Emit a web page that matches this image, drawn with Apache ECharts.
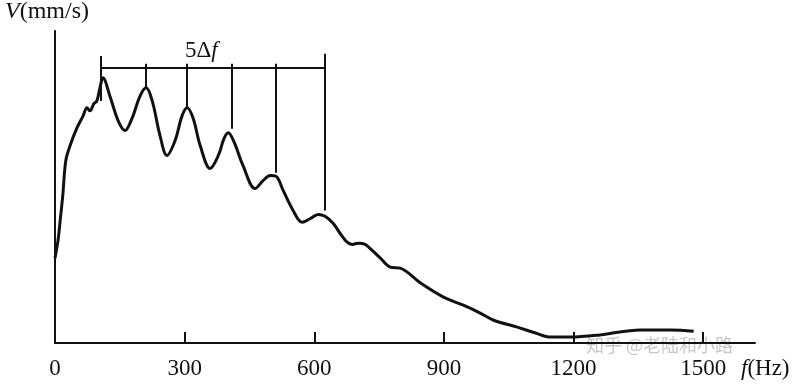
<!DOCTYPE html>
<html><head><meta charset="utf-8">
<script src="https://cdn.jsdelivr.net/npm/echarts@6/dist/echarts.min.js"></script>
<style>html,body{margin:0;padding:0;background:#fff}#c{width:800px;height:385px}</style>
</head><body><div id="c"></div>
<script>
// Spectrum curve (frequency Hz, velocity in arbitrary units)
const freq = [0,7,12,18,25,35,51,65,74,81,90,97,104,111,127,146,162,178,197,211,225,243,259,278,294,306,320,336,359,378,391,401,415,435,463,482,498,512,528,551,572,591,609,625,644,660,676,688,702,718,734,753,776,799,846,899,945,984,1015,1070,1112,1147,1193,1262,1355,1425,1478];
const velocity = [27.2,32.9,39.3,47.3,58.5,63.3,69.0,72.8,75.4,74.4,76.7,77.6,81.8,85.0,79.2,71.3,68.1,71.9,79.2,81.8,77.6,66.5,60.1,64.9,72.8,75.4,71.9,63.3,55.9,60.1,65.5,67.4,64.2,56.9,49.5,52.1,53.7,53.4,48.9,42.5,38.7,39.9,41.2,40.6,38.3,35.1,32.3,31.6,32.0,31.6,29.7,27.2,24.3,24.0,19.2,14.7,12.1,9.6,7.3,5.1,3.2,1.9,1.9,2.6,4.2,4.2,3.8];
// Peak marker lines
const markerFreq = [106,211,306,410,512,625];
const markerBottom = [77.6,81.8,75.4,68.7,54.6,42.5];
const markerTop = [92,89.5,89.5,89.5,89.5,92.7];
const barLevel = 88.2;
const xTicks = [300,600,900,1200,1500];
const xLabels = [0,300,600,900,1200,1500];

const serif = '"Liberation Serif","DejaVu Serif",serif';
const curve = freq.map((f,i)=>[f,velocity[i]]);
const markLines = markerFreq.map((f,i)=>[{coord:[f,markerBottom[i]]},{coord:[f,markerTop[i]]}]);
markLines.push([{coord:[markerFreq[0],barLevel]},{coord:[markerFreq[markerFreq.length-1],barLevel]}]);

const chart = echarts.init(document.getElementById('c'), null, {renderer:'canvas'});
chart.setOption({
  animation:false,
  backgroundColor:'#fff',
  grid:{left:55,right:45,top:30,bottom:42,containLabel:false},
  xAxis:{
    type:'value',min:0,max:1620,interval:300,
    name:'{i|f}(Hz)',nameLocation:'end',nameGap:-14,
    nameTextStyle:{fontFamily:serif,fontSize:23,color:'#111',verticalAlign:'top',padding:[14,0,0,0],
      rich:{i:{fontFamily:serif,fontStyle:'italic',fontSize:23,color:'#111'}}},
    axisLine:{show:true,lineStyle:{color:'#111',width:2}},
    axisTick:{show:true,inside:true,length:11,lineStyle:{color:'#111',width:2},customValues:xTicks},
    axisLabel:{customValues:xLabels,formatter:v=>String(v),fontFamily:serif,fontSize:23,color:'#111',margin:14},
    splitLine:{show:false}
  },
  yAxis:{
    type:'value',min:0,max:100,
    name:'{i|V}(mm/s)',nameLocation:'end',nameGap:7,
    nameTextStyle:{fontFamily:serif,fontSize:24,color:'#111',align:'left',padding:[0,0,0,-50],
      rich:{i:{fontFamily:serif,fontStyle:'italic',fontSize:24,color:'#111'}}},
    axisLine:{show:true,lineStyle:{color:'#111',width:2}},
    axisTick:{show:false},axisLabel:{show:false},splitLine:{show:false}
  },
  graphic:[
    {type:'text',left:185,top:39,z:10,style:{text:'5Δ{i|f}',font:'23px '+serif,fill:'#111',
      rich:{i:{fontFamily:serif,fontStyle:'italic',fontSize:23,fill:'#111'}}}},
    {type:'text',left:586,top:336,z:0,style:{text:'知乎 @老陆和小路',font:'18px "Noto Sans CJK SC"',fill:'rgba(185,185,185,0.8)'}}
  ],
  series:[{
    type:'line',data:curve,smooth:0.35,showSymbol:false,symbol:'none',
    lineStyle:{color:'#111',width:3},
    markLine:{silent:true,symbol:'none',label:{show:false},
      lineStyle:{color:'#111',width:2,type:'solid'},data:markLines}
  }]
});
</script></body></html>
